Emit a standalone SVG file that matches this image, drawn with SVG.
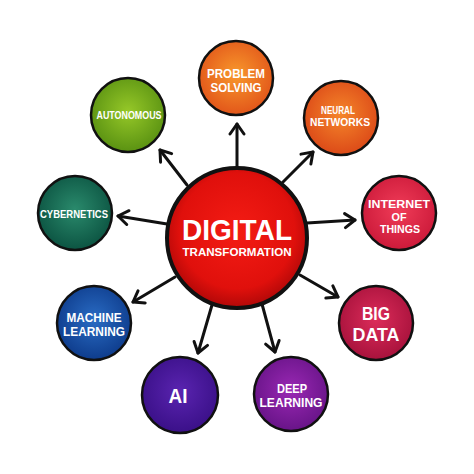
<svg xmlns="http://www.w3.org/2000/svg" width="474" height="474" viewBox="0 0 474 474">
<defs>
<style>
.node{stroke:#111;stroke-width:2.5}
.hub{stroke:#111;stroke-width:4}
.t{font-family:"Liberation Sans","Open Sans",sans-serif;font-weight:bold;fill:#fff;text-anchor:middle}
.con line{stroke:#111;stroke-width:3;stroke-linecap:round;marker-end:url(#ah)}
</style>
<marker id="ah" markerWidth="16" markerHeight="18" refX="13" refY="9" orient="auto" markerUnits="userSpaceOnUse"><path d="M3,2 L13,9 L3,16" fill="none" stroke="#111" stroke-width="3" stroke-linecap="round" stroke-linejoin="round"/></marker>
<radialGradient id="gRed" cx="50%" cy="45%" r="55%"><stop offset="0" stop-color="#f41c14"/><stop offset="0.75" stop-color="#e0100c"/><stop offset="1" stop-color="#b00808"/></radialGradient>
<radialGradient id="gOr1" cx="50%" cy="45%" r="55%"><stop offset="0" stop-color="#f8982c"/><stop offset="1" stop-color="#e2561a"/></radialGradient>
<radialGradient id="gOr2" cx="50%" cy="45%" r="55%"><stop offset="0" stop-color="#f5862a"/><stop offset="1" stop-color="#dc4a18"/></radialGradient>
<radialGradient id="gGrn" cx="50%" cy="45%" r="55%"><stop offset="0" stop-color="#96c828"/><stop offset="1" stop-color="#5a9212"/></radialGradient>
<radialGradient id="gTeal" cx="50%" cy="45%" r="55%"><stop offset="0" stop-color="#2a8a6c"/><stop offset="1" stop-color="#0c5442"/></radialGradient>
<radialGradient id="gBlue" cx="50%" cy="45%" r="55%"><stop offset="0" stop-color="#2a6cc4"/><stop offset="1" stop-color="#0e3c8c"/></radialGradient>
<radialGradient id="gAI" cx="50%" cy="45%" r="55%"><stop offset="0" stop-color="#5a24b0"/><stop offset="1" stop-color="#3a1088"/></radialGradient>
<radialGradient id="gDeep" cx="50%" cy="45%" r="55%"><stop offset="0" stop-color="#9a28b4"/><stop offset="1" stop-color="#681488"/></radialGradient>
<radialGradient id="gBig" cx="50%" cy="45%" r="55%"><stop offset="0" stop-color="#dc2c5a"/><stop offset="1" stop-color="#a8123c"/></radialGradient>
<radialGradient id="gIot" cx="50%" cy="45%" r="55%"><stop offset="0" stop-color="#f03c58"/><stop offset="1" stop-color="#cc1a3a"/></radialGradient>
</defs>
<rect width="474" height="474" fill="#fff"/>
<g id="connectors" class="con">
<line x1="237" y1="167" x2="237" y2="124"/>
<line x1="283" y1="182" x2="313" y2="152"/>
<line x1="307" y1="223" x2="355" y2="220"/>
<line x1="300" y1="275" x2="338" y2="297"/>
<line x1="262" y1="304" x2="275" y2="352"/>
<line x1="212" y1="305" x2="198" y2="353"/>
<line x1="175" y1="277" x2="133" y2="302"/>
<line x1="167" y1="224" x2="118" y2="216"/>
<line x1="187" y1="185" x2="160" y2="150"/>
</g>
<g id="hub">
<circle class="hub" cx="237" cy="238" r="70" fill="url(#gRed)"/>
<text class="t" x="237" y="240" font-size="30" textLength="110" lengthAdjust="spacingAndGlyphs">DIGITAL</text>
<text class="t" x="237" y="256" font-size="10" textLength="109" lengthAdjust="spacingAndGlyphs">TRANSFORMATION</text>
</g>
<g id="problem-solving">
<circle class="node" cx="236" cy="78" r="37" fill="url(#gOr1)"/>
<text class="t" x="236" y="78" font-size="12" textLength="58" lengthAdjust="spacingAndGlyphs">PROBLEM</text>
<text class="t" x="236" y="92" font-size="12" textLength="51" lengthAdjust="spacingAndGlyphs">SOLVING</text>
</g>
<g id="neural-networks">
<circle class="node" cx="341" cy="118" r="37" fill="url(#gOr2)"/>
<text class="t" x="338" y="114" font-size="10.5" textLength="34" lengthAdjust="spacingAndGlyphs">NEURAL</text>
<text class="t" x="340" y="126" font-size="10.5" textLength="60" lengthAdjust="spacingAndGlyphs">NETWORKS</text>
</g>
<g id="internet-of-things">
<circle class="node" cx="399" cy="213" r="37" fill="url(#gIot)"/>
<text class="t" x="399" y="208" font-size="10.5" textLength="62" lengthAdjust="spacingAndGlyphs">INTERNET</text>
<text class="t" x="399" y="221" font-size="10.5" textLength="15" lengthAdjust="spacingAndGlyphs">OF</text>
<text class="t" x="400" y="233" font-size="10.5" textLength="40" lengthAdjust="spacingAndGlyphs">THINGS</text>
</g>
<g id="big-data">
<circle class="node" cx="376" cy="323" r="37" fill="url(#gBig)"/>
<text class="t" x="376" y="320" font-size="18" textLength="28" lengthAdjust="spacingAndGlyphs">BIG</text>
<text class="t" x="376" y="341" font-size="18" textLength="47" lengthAdjust="spacingAndGlyphs">DATA</text>
</g>
<g id="deep-learning">
<circle class="node" cx="291" cy="394" r="37" fill="url(#gDeep)"/>
<text class="t" x="292" y="393" font-size="12" textLength="30" lengthAdjust="spacingAndGlyphs">DEEP</text>
<text class="t" x="291" y="407" font-size="12" textLength="63" lengthAdjust="spacingAndGlyphs">LEARNING</text>
</g>
<g id="ai">
<circle class="node" cx="180" cy="395" r="38" fill="url(#gAI)"/>
<text class="t" x="178" y="403" font-size="21" textLength="19" lengthAdjust="spacingAndGlyphs">AI</text>
</g>
<g id="machine-learning">
<circle class="node" cx="94" cy="323" r="37" fill="url(#gBlue)"/>
<text class="t" x="94" y="322" font-size="12" textLength="55" lengthAdjust="spacingAndGlyphs">MACHINE</text>
<text class="t" x="94" y="336" font-size="12" textLength="62" lengthAdjust="spacingAndGlyphs">LEARNING</text>
</g>
<g id="cybernetics">
<circle class="node" cx="75" cy="213" r="37" fill="url(#gTeal)"/>
<text class="t" x="74" y="218" font-size="10.5" textLength="68" lengthAdjust="spacingAndGlyphs">CYBERNETICS</text>
</g>
<g id="autonomous">
<circle class="node" cx="128" cy="115" r="37" fill="url(#gGrn)"/>
<text class="t" x="129" y="119" font-size="10" textLength="65" lengthAdjust="spacingAndGlyphs">AUTONOMOUS</text>
</g>
</svg>
